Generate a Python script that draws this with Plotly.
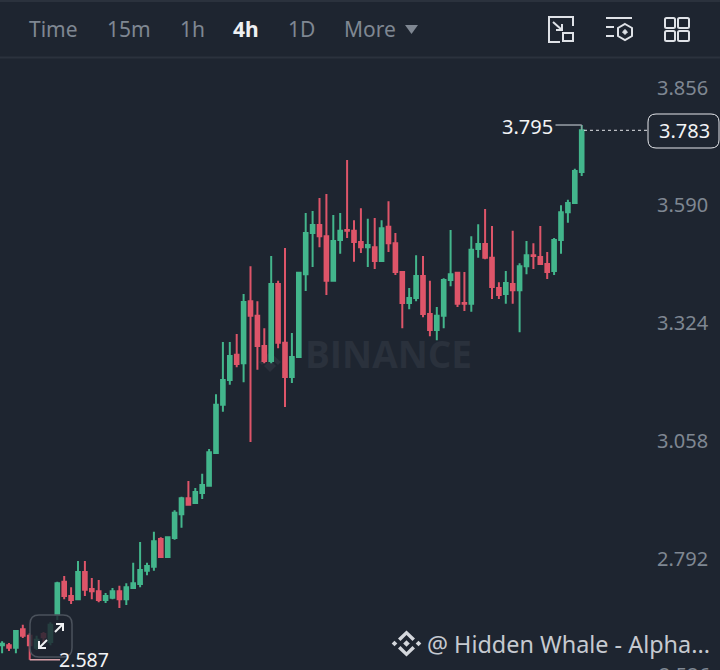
import plotly.graph_objects as go

# OHLC values (4h candles)
opens = [2.620,2.620,2.614,2.656,2.641,2.614,2.645,2.627,2.688,2.763,2.731,2.724,2.785,2.747,2.742,2.722,2.727,2.742,2.724,2.749,
         2.758,2.788,2.797,2.860,2.819,2.862,2.916,2.952,2.941,2.964,2.980,3.054,3.163,3.219,3.276,3.257,3.397,3.364,3.296,3.262,
         3.436,3.303,3.226,3.271,3.458,3.551,3.569,3.544,3.443,3.535,3.558,3.556,3.531,3.519,3.519,3.488,3.565,3.528,3.463,3.393,
         3.404,3.454,3.368,3.332,3.364,3.445,3.461,3.393,3.391,3.515,3.526,3.495,3.427,3.413,3.436,3.422,3.476,3.501,3.497,3.481,
         3.465,3.535,3.598,3.619,3.689]
highs = [2.629,2.625,2.654,2.666,2.647,2.641,2.650,2.672,2.763,2.776,2.751,2.810,2.810,2.772,2.767,2.738,2.749,2.754,2.760,2.806,
         2.853,2.806,2.876,2.864,2.864,2.925,2.955,2.991,2.975,3.007,3.063,3.187,3.305,3.305,3.323,3.413,3.476,3.397,3.336,3.499,
         3.443,3.517,3.325,3.461,3.596,3.601,3.630,3.639,3.592,3.596,3.716,3.580,3.607,3.583,3.585,3.580,3.623,3.551,3.465,3.427,
         3.501,3.499,3.443,3.384,3.449,3.558,3.463,3.463,3.544,3.571,3.605,3.567,3.440,3.465,3.556,3.483,3.533,3.528,3.567,3.508,
         3.540,3.614,3.626,3.696,3.795]
lows = [2.602,2.607,2.602,2.636,2.587,2.609,2.625,2.620,2.677,2.724,2.713,2.722,2.731,2.724,2.717,2.715,2.724,2.704,2.711,2.747,
        2.751,2.778,2.788,2.817,2.819,2.858,2.885,2.937,2.939,2.950,2.980,3.052,3.147,3.208,3.248,3.214,3.079,3.242,3.257,3.257,
        3.291,3.158,3.212,3.269,3.420,3.474,3.519,3.411,3.443,3.504,3.540,3.486,3.506,3.474,3.470,3.488,3.508,3.456,3.336,3.379,
        3.397,3.361,3.318,3.309,3.336,3.431,3.384,3.375,3.373,3.495,3.492,3.402,3.402,3.391,3.391,3.327,3.458,3.470,3.479,3.447,
        3.456,3.504,3.574,3.617,3.680]
closes = [2.623,2.614,2.652,2.641,2.620,2.632,2.638,2.666,2.760,2.731,2.722,2.785,2.745,2.742,2.722,2.731,2.742,2.724,2.751,2.760,
          2.790,2.799,2.855,2.819,2.864,2.919,2.952,2.937,2.966,2.982,3.056,3.163,3.219,3.273,3.255,3.395,3.364,3.296,3.262,3.436,
          3.303,3.226,3.271,3.461,3.551,3.569,3.544,3.443,3.533,3.556,3.556,3.531,3.519,3.524,3.488,3.562,3.528,3.463,3.393,3.404,
          3.454,3.368,3.332,3.364,3.445,3.458,3.391,3.391,3.513,3.526,3.495,3.429,3.411,3.438,3.422,3.476,3.501,3.499,3.481,3.463,
          3.535,3.598,3.619,3.691,3.783]
tick_values = [3.856, 3.590, 3.324, 3.058, 2.792]
tick_labels = ["3.856", "3.590", "3.324", "3.058", "2.792"]
timeframes = ["Time", "15m", "1h", "4h", "1D", "More"]
high_label, low_label, last_label = "3.795", "2.587", "3.783"
credit = "@ Hidden Whale - Alpha..."

W, H, PW = 720, 670, 656
BG = "#1e2530"
GREEN, RED = "#43b68c", "#de5569"
GREY = "#7f8792"
ICON = "#dfe2e7"
idx = list(range(len(closes)))

fx = lambda x: x / PW
fy = lambda y: 1 - y / H

def path(points, close=False):
    s = "M " + " L ".join(f"{fx(x):.5f},{fy(y):.5f}" for x, y in points)
    return s + (" Z" if close else "")

def pshape(points, close=False, color=ICON, width=2, fill=None, layer="above"):
    return dict(type="path", xref="paper", yref="paper", path=path(points, close), layer=layer,
                line=dict(color=color, width=width), fillcolor=fill)

def rrect(x0, y0, x1, y1, r):
    return dict(type="path", xref="paper", yref="paper",
                path=(f"M {fx(x0+r)},{fy(y0)} L {fx(x1-r)},{fy(y0)} Q {fx(x1)},{fy(y0)} {fx(x1)},{fy(y0+r)} "
                      f"L {fx(x1)},{fy(y1-r)} Q {fx(x1)},{fy(y1)} {fx(x1-r)},{fy(y1)} "
                      f"L {fx(x0+r)},{fy(y1)} Q {fx(x0)},{fy(y1)} {fx(x0)},{fy(y1-r)} "
                      f"L {fx(x0)},{fy(y0+r)} Q {fx(x0)},{fy(y0)} {fx(x0+r)},{fy(y0)} Z"))

def diamond(cx, cy, r):
    return [(cx, cy - r), (cx + r, cy), (cx, cy + r), (cx - r, cy)]

fig = go.Figure(go.Candlestick(
    x=idx, open=opens, high=highs, low=lows, close=closes,
    whiskerwidth=0,
    increasing=dict(line=dict(color=GREEN, width=2), fillcolor=GREEN),
    decreasing=dict(line=dict(color=RED, width=2), fillcolor=RED),
))

shapes = []
# toolbar separators
for y, c in ((1, "#2b323d"), (57.5, "#2b323d")):
    shapes.append(pshape([(0, y), (W, y)], color=c, width=2))
# icon 1
shapes += [pshape([(573, 26), (573, 17), (549, 17), (549, 42), (560, 42)]),
           pshape([(563, 33), (573, 33), (573, 41), (563, 41)], close=True),
           pshape([(553, 22), (562, 30)]),
           pshape([(562, 24), (562, 30), (556, 30)])]
# icon 2
shapes += [pshape([(606, 18), (632, 18)]), pshape([(606, 27), (614, 27)]), pshape([(606, 36), (614, 36)]),
           pshape([(625, 24), (632, 28), (632, 36), (625, 40), (618, 36), (618, 28)], close=True),
           pshape(diamond(625, 32, 2.5), close=True, fill=ICON, width=1)]
# icon 3
for x0, x1 in ((665, 675), (678, 689)):
    for y0, y1 in ((18, 28), (31, 41)):
        s = rrect(x0, y0, x1, y1, 1.5)
        s["line"] = dict(color=ICON, width=2)
        shapes.append(s)
# "More" triangle
shapes.append(pshape([(405, 25), (418, 25), (411.5, 34)], close=True, color=GREY, fill=GREY, width=0))
# high / low / last markers
shapes.append(dict(type="line", xref="x", yref="y", x0=80.2, x1=84, y0=3.795, y1=3.795, line=dict(color="#9aa0a8", width=1.5)))
shapes.append(dict(type="line", xref="x", yref="y", x0=84, x1=84, y0=3.795, y1=3.783, line=dict(color="#9aa0a8", width=1)))
shapes.append(dict(type="line", xref="x", yref="y", x0=4, x1=8.4, y0=2.587, y1=2.587, line=dict(color="#d8a0a8", width=1.5)))
shapes.append(pshape([(584, 130.3), (648, 130.3)], color="#e4e6ea", width=1))
shapes[-1]["line"]["dash"] = "3px,3px"
box = rrect(648, 114, 719, 148, 8)
box.update(line=dict(color="#e4e6ea", width=1), fillcolor=BG)
shapes.append(box)
# expand button
btn = rrect(30, 615, 72, 657, 9)
btn.update(line=dict(color="#4b525c", width=1.5), fillcolor="rgba(30,37,48,0.82)")
shapes.append(btn)
shapes += [pshape([(39, 648), (47, 640)], color="#f0f1f3"), pshape([(39, 641), (39, 648), (46, 648)], color="#f0f1f3"),
           pshape([(55, 632), (63, 624)], color="#f0f1f3"), pshape([(56, 624), (63, 624), (63, 631)], color="#f0f1f3")]
# Binance logo in the credit line
LOGO = "#d4d7dc"
shapes += [pshape(diamond(394.5, 643.5, 2.8), True, LOGO, 0, LOGO), pshape(diamond(418.5, 643.5, 2.8), True, LOGO, 0, LOGO),
           pshape(diamond(406.5, 643.5, 3.3), True, LOGO, 0, LOGO),
           pshape([(406.5, 630.5), (415, 638.5), (412.5, 641), (406.5, 635), (400.5, 641), (398, 638.5)], True, LOGO, 0, LOGO),
           pshape([(406.5, 656.5), (415, 648.5), (412.5, 646), (406.5, 652), (400.5, 646), (398, 648.5)], True, LOGO, 0, LOGO)]
# faint logo of the watermark
MARK = "#2a313c"
shapes += [pshape(diamond(270, 366, 6), True, MARK, 0, MARK, "below"),
           pshape([(270, 352), (281, 362), (278, 365), (270, 358), (262, 365), (259, 362)], True, MARK, 0, MARK, "below")]

def label(text, x, y, size, color, anchor="left", family="Noto Sans", bold=False):
    return dict(text=f"<b>{text}</b>" if bold else text, xref="paper", yref="paper", x=fx(x), y=fy(y), showarrow=False,
                xanchor=anchor, yanchor="middle", font=dict(family=family, size=size, color=color))

annotations = []
for text, x in zip(timeframes, (27, 105, 178, 231, 286, 342)):
    active = text == "4h"
    annotations.append(label(text, x, 29.5, 21, "#eef0f2" if active else GREY, bold=active))
annotations.append(label("BINANCE", 303, 353, 37, MARK, family="Open Sans", bold=True))
annotations.append(label(credit, 425, 644, 23.4, "#c6cad0"))
annotations.append(label(last_label, 684, 131, 20, "#f2f3f5", anchor="center"))
annotations.append(label("2.526", 657, 675, 20, GREY))
annotations.append(dict(text=high_label, xref="x", yref="y", x=84, y=3.795, xshift=-27, yshift=-1, showarrow=False,
                        xanchor="right", yanchor="middle", font=dict(family="Noto Sans", size=20, color="#f2f3f5")))
annotations.append(dict(text=low_label, xref="x", yref="y", x=8.0, y=2.587, showarrow=False,
                        xanchor="left", yanchor="middle", font=dict(family="Noto Sans", size=19.5, color="#f2f3f5")))

fig.update_layout(
    width=W, height=H, margin=dict(l=0, r=W - PW, t=0, b=0),
    paper_bgcolor=BG, plot_bgcolor=BG, showlegend=False, boxgap=0.25,
    shapes=shapes, annotations=annotations,
    xaxis=dict(visible=False, range=[-0.304, (PW - 2.1) / 6.9], rangeslider=dict(visible=False), fixedrange=True),
    yaxis=dict(side="right", range=[2.5639, 4.0774], tickvals=[v - 0.008 for v in tick_values], ticktext=tick_labels,
               ticklabelposition="outside top", ticks="", showgrid=False, zeroline=False, showline=False,
               tickfont=dict(family="Noto Sans", size=20, color=GREY), fixedrange=True),
)
fig.write_html("out.html", config=dict(displayModeBar=False), post_script="document.body.style.margin='0';document.body.style.background='#1e2530';")
